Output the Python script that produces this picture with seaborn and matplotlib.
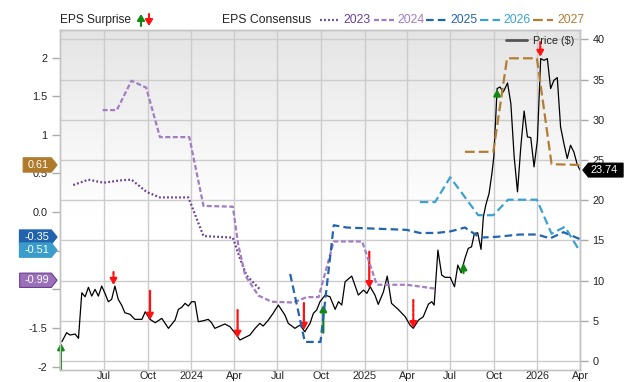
import numpy as np
import pandas as pd
import matplotlib
matplotlib.use("Agg")
import matplotlib.pyplot as plt
import matplotlib.transforms as mtransforms
from matplotlib.lines import Line2D
from matplotlib.path import Path
import seaborn as sns

# ---------------- data ----------------
price_dates = [
    "2023-04-03", "2023-04-13", "2023-04-20", "2023-05-01", "2023-05-08", "2023-05-15", "2023-05-22",
    "2023-05-29", "2023-06-05", "2023-06-12", "2023-06-19", "2023-06-26", "2023-07-03", "2023-07-10",
    "2023-07-17", "2023-07-24", "2023-07-31", "2023-08-07", "2023-08-14", "2023-08-25", "2023-09-04",
    "2023-09-19", "2023-09-26", "2023-10-06", "2023-10-17", "2023-10-31", "2023-11-14", "2023-11-28",
    "2023-12-05", "2023-12-12", "2023-12-19", "2023-12-26", "2024-01-02", "2024-01-09", "2024-01-16",
    "2024-01-27", "2024-02-06", "2024-02-13", "2024-02-20", "2024-03-02", "2024-03-12", "2024-03-23",
    "2024-04-03", "2024-04-13", "2024-04-24", "2024-05-04", "2024-05-15", "2024-05-25", "2024-06-01",
    "2024-06-12", "2024-06-22", "2024-07-03", "2024-07-10", "2024-07-17", "2024-07-24", "2024-08-07",
    "2024-08-18", "2024-08-28", "2024-09-08", "2024-09-15", "2024-09-22", "2024-09-29", "2024-10-10",
    "2024-10-20", "2024-10-31", "2024-11-07", "2024-11-14", "2024-11-21", "2024-12-05", "2024-12-19",
    "2024-12-30", "2025-01-06", "2025-01-13", "2025-01-23", "2025-01-30", "2025-02-10", "2025-02-18",
    "2025-02-27", "2025-03-13", "2025-03-28", "2025-04-07", "2025-04-14", "2025-04-25", "2025-05-05",
    "2025-05-16", "2025-05-23", "2025-05-28", "2025-06-05", "2025-06-13", "2025-06-20", "2025-07-01",
    "2025-07-10", "2025-07-17", "2025-07-24", "2025-08-01", "2025-08-08", "2025-08-15", "2025-08-21",
    "2025-08-28", "2025-09-04", "2025-09-09", "2025-09-14", "2025-09-21", "2025-09-27", "2025-10-01",
    "2025-10-08", "2025-10-14", "2025-10-21", "2025-10-30", "2025-11-06", "2025-11-13", "2025-11-20",
    "2025-11-27", "2025-12-04", "2025-12-11", "2025-12-18", "2025-12-25", "2026-01-01", "2026-01-08",
    "2026-01-15", "2026-01-22", "2026-01-29", "2026-02-05", "2026-02-12", "2026-02-19", "2026-02-26",
    "2026-03-05", "2026-03-12", "2026-03-19", "2026-03-26", "2026-04-01",
]
price_values = [
    2.40, 3.52, 3.23, 3.35, 2.82, 8.48, 7.99, 9.16, 8.07, 8.91, 8.07, 9.32, 8.41, 7.37,
    7.66, 9.32, 7.66, 6.96, 6.00, 5.80, 5.18, 5.18, 6.12, 5.18, 4.76, 5.30, 4.06, 5.09,
    6.42, 6.67, 7.17, 6.83, 7.37, 7.37, 4.88, 5.01, 5.18, 4.76, 4.06, 4.35, 4.60, 4.26,
    3.44, 2.61, 2.94, 3.23, 4.06, 4.68, 4.35, 5.09, 5.93, 6.96, 6.34, 5.71, 4.68, 4.06,
    4.47, 3.64, 4.68, 5.93, 6.34, 7.37, 8.20, 7.99, 6.42, 7.37, 6.96, 9.85, 10.56, 8.20,
    8.82, 8.41, 9.23, 8.20, 7.04, 8.61, 10.56, 7.17, 6.42, 5.50, 4.47, 4.06, 5.09, 5.50,
    7.08, 7.37, 6.96, 13.79, 10.68, 10.40, 10.40, 9.23, 11.93, 10.97, 12.76, 14.00, 14.20, 15.86,
    15.94, 13.88, 17.93, 19.38, 20.83, 23.32, 25.38, 33.88, 34.07, 33.45, 34.57, 32.01, 25.38, 21.03,
    26.62, 31.09, 27.86, 27.79, 24.14, 27.45, 37.60, 37.39, 37.60, 33.88, 34.91, 35.24, 29.11, 27.04,
    25.18, 26.83, 26.00, 24.47, 23.74,
]

c2023_dates = ["2023-04-27", "2023-05-29", "2023-06-30", "2023-08-04", "2023-08-28", "2023-09-29",
               "2023-10-27", "2023-12-26", "2024-01-27", "2024-03-29", "2024-04-13", "2024-04-27",
               "2024-05-25"]
c2023_values = [0.35, 0.42, 0.38, 0.41, 0.42, 0.26, 0.19, 0.19, -0.31, -0.33, -0.60, -0.82, -1.00]

c2024_dates = ["2023-06-28", "2023-07-28", "2023-08-28", "2023-09-28", "2023-10-27", "2023-12-28",
               "2024-01-27", "2024-03-29", "2024-04-09", "2024-04-24", "2024-05-22", "2024-06-19",
               "2024-08-04", "2024-09-01", "2024-09-26", "2024-10-28", "2024-12-27", "2025-01-27",
               "2025-03-31", "2025-05-30"]
c2024_values = [1.32, 1.32, 1.70, 1.61, 0.97, 0.97, 0.08, 0.07, -0.41, -0.82, -1.08, -1.16,
                -1.17, -1.10, -1.10, -0.38, -0.38, -0.94, -0.94, -0.99]

c2025_dates = ["2024-07-28", "2024-08-28", "2024-09-30", "2024-10-28", "2024-11-25", "2025-03-31",
               "2025-04-28", "2025-06-02", "2025-07-01", "2025-08-01", "2025-09-02", "2025-10-07",
               "2025-11-25", "2025-12-31", "2026-01-28", "2026-02-25", "2026-04-01"]
c2025_values = [-0.80, -1.68, -1.68, -0.17, -0.20, -0.23, -0.27, -0.27, -0.25, -0.20, -0.33, -0.32,
                -0.29, -0.29, -0.34, -0.26, -0.35]

c2026_dates = ["2025-04-28", "2025-05-30", "2025-07-01", "2025-08-29", "2025-09-30", "2025-10-31",
               "2025-12-31", "2026-01-31", "2026-02-28", "2026-04-01"]
c2026_values = [0.13, 0.13, 0.45, -0.04, -0.04, 0.16, 0.16, -0.28, -0.19, -0.51]

c2027_dates = ["2025-08-01", "2025-09-30", "2025-10-29", "2025-12-31", "2026-01-31", "2026-04-01"]
c2027_values = [0.78, 0.78, 1.99, 1.99, 0.62, 0.61]

consensus_years = ["2023", "2024", "2025", "2026", "2027"]
consensus_latest = ["", "-0.99", "-0.35", "-0.51", "0.61"]

surprise_dates = ["2023-04-01", "2023-07-21", "2023-10-06", "2024-04-08", "2024-08-26", "2024-10-06",
                  "2025-01-11", "2025-04-14", "2025-07-29", "2025-10-08", "2026-01-07"]
surprise_tail = [-1.1, 11.06, 8.73, 6.34, 7.20, 3.52, 13.58, 7.58, 10.93, 32.83, 39.66]
surprise_tip = [2.24, 9.44, 5.09, 2.86, 3.85, 6.96, 9.03, 4.06, 12.17, 33.79, 37.80]
surprise_beat = [True, False, False, False, False, True, False, False, True, True, False]
surprise_dashed = [False, True, False, False, False, False, False, True, False, False, True]

price_ticks = [0, 5, 10, 15, 20, 25, 30, 35, 40]
eps_ticks = [2, 1.5, 1, 0.5, 0, -0.5, -1, -1.5, -2]
eps_tick_labels = ["2", "1.5", "1", "0.5", "0.0", "", "", "-1.5", "-2"]
x_tick_dates = ["2023-07-01", "2023-10-01", "2024-01-01", "2024-04-01", "2024-07-01", "2024-10-01",
                "2025-01-01", "2025-04-01", "2025-07-01", "2025-10-01", "2026-01-01", "2026-04-01"]
x_tick_labels = ["Jul", "Oct", "2024", "Apr", "Jul", "Oct", "2025", "Apr", "Jul", "Oct", "2026", "Apr"]
last_price = 23.74

# ---------------- style ----------------
sns.set_theme(style="white")
plt.rcParams['font.family'] = ['Liberation Sans', 'DejaVu Sans']
plt.rcParams['lines.scale_dashes'] = False

col = {"2023": "#6b3f96", "2024": "#a37cc2", "2025": "#2365b0", "2026": "#3aa2d2", "2027": "#b27e33"}
dash = {"2023": (0, (1.3, 1.6)), "2024": (0, (3.6, 1.8)), "2025": (0, (5.5, 3.0)),
        "2026": (0, (6.0, 3.0)), "2027": (0, (7.0, 3.0))}
badge_col = {"2024": "#9b70bb", "2025": "#2163ad", "2026": "#399cca", "2027": "#b07a2b"}
badge_shift = {"2024": 6.0, "2025": 1.5, "2026": 1.0, "2027": 0.0}  # points, label placement nudge
grid_c = "#cccccc"
txt_c = "#222222"

W, H = 640, 382
fig = plt.figure(figsize=(6.4, 3.82), dpi=100)
ax = fig.add_axes([60 / W, 1 - 370 / H, 520 / W, 340 / H])
ax2 = ax.twinx()

# gradient background (grey at top fading to white)
frac = np.linspace(1, 0, 300)  # row 0 = top
g = np.clip((frac - 0.45) / 0.55, 0, 1) ** 1.1
shade = 1 - g * (1 - 0.895)
img = np.stack([shade, shade, shade], axis=-1).reshape(300, 1, 3)
ax.imshow(img, extent=[0, 1, 0, 1], transform=ax.transAxes, aspect='auto', zorder=-10,
          interpolation='bilinear', origin='upper')

# price line
pdf = pd.DataFrame({"date": pd.to_datetime(price_dates), "price": price_values})
sns.lineplot(data=pdf, x="date", y="price", ax=ax, color="black", lw=0.9, zorder=3)

# consensus lines
cdata = {"2023": (c2023_dates, c2023_values), "2024": (c2024_dates, c2024_values),
         "2025": (c2025_dates, c2025_values), "2026": (c2026_dates, c2026_values),
         "2027": (c2027_dates, c2027_values)}
for yr in consensus_years:
    d, v = cdata[yr]
    cdf = pd.DataFrame({"date": pd.to_datetime(d), "eps": v})
    sns.lineplot(data=cdf, x="date", y="eps", ax=ax2, color=col[yr], lw=1.6)
    ax2.lines[-1].set_linestyle(dash[yr])

# surprise arrows
for d, t0, t1, beat, dsh in zip(surprise_dates, surprise_tail, surprise_tip, surprise_beat, surprise_dashed):
    c = "#118811" if beat else "#ff1111"
    ls = (0, (2.0, 1.2)) if dsh else "solid"
    ax.annotate("", xy=(pd.Timestamp(d), t1), xytext=(pd.Timestamp(d), t0),
                arrowprops=dict(arrowstyle="-|>,head_length=0.36,head_width=0.2", color=c, lw=1.6,
                                linestyle=ls, shrinkA=0, shrinkB=0, mutation_scale=10),
                zorder=5, annotation_clip=False)

# axes limits, ticks, grid
ax.set_xlim(pd.Timestamp("2023-03-30"), pd.Timestamp("2026-04-01"))
ax.set_ylim(-1.12, 41.16)
ax2.set_ylim(-2.043, 2.356)

ax.set_xticks(pd.to_datetime(x_tick_dates))
ax.set_xticklabels(x_tick_labels)
ax.set_yticks(price_ticks)
ax.set_yticklabels([str(t) for t in price_ticks])
ax.yaxis.tick_right()
ax2.yaxis.tick_left()
ax2.set_yticks(eps_ticks)
ax2.set_yticklabels(eps_tick_labels)

ax.set_axisbelow(True)
ax.grid(True, axis="both", color=grid_c, lw=1.0)
ax2.grid(False)
ax.set_xlabel("")
ax.set_ylabel("")
ax2.set_xlabel("")
ax2.set_ylabel("")

ax.tick_params(axis="x", length=0, pad=1, labelsize=7.8, labelcolor=txt_c)
ax.tick_params(axis="y", which="both", right=True, left=False, labelright=True, labelleft=False,
               direction="out", length=6, width=1, color="#aaaaaa", pad=3, labelsize=7.8,
               labelcolor=txt_c)
ax2.tick_params(axis="y", which="both", left=True, right=False, labelleft=True, labelright=False,
                direction="out", length=6, width=1, color="#aaaaaa", pad=3, labelsize=7.8,
                labelcolor=txt_c)
for a in (ax, ax2):
    for s in a.spines.values():
        s.set_visible(True)
        s.set_color("#c4c4c4")
        s.set_linewidth(1.0)
ax2.patch.set_visible(False)


# badges
def right_badge(x0, y0, width, height, mutation_size):
    pl, pr, pv = 0.45 * mutation_size, 0.2 * mutation_size, 0.2 * mutation_size
    x0 -= pl; y0 -= pv; w = width + pl + pr; h = height + 2 * pv
    tip = h * 0.4
    verts = [(x0, y0), (x0 + w, y0), (x0 + w + tip, y0 + h / 2), (x0 + w, y0 + h), (x0, y0 + h), (x0, y0)]
    return Path(verts, closed=True)


def left_badge(x0, y0, width, height, mutation_size):
    pl, pr, pv = 0.2 * mutation_size, 0.5 * mutation_size, 0.18 * mutation_size
    x0 -= pl; y0 -= pv; w = width + pl + pr; h = height + 2 * pv
    tip = h * 0.4
    verts = [(x0, y0), (x0 + w, y0), (x0 + w, y0 + h), (x0, y0 + h), (x0 - tip, y0 + h / 2), (x0, y0)]
    return Path(verts, closed=True)


trans_eps = mtransforms.blended_transform_factory(ax2.transAxes, ax2.transData)
for yr, lab in zip(consensus_years, consensus_latest):
    if not lab:
        continue
    val = float(lab)
    ec = "#6a3f8c" if yr == "2024" else badge_col[yr]
    ax2.annotate(lab, xy=(0, val), xycoords=trans_eps, xytext=(-7.8, badge_shift[yr]),
                 textcoords="offset points", ha="right", va="center", fontsize=7.8, color="white",
                 zorder=20, annotation_clip=False,
                 bbox=dict(boxstyle=right_badge, fc=badge_col[yr], ec=ec, lw=0.8))

trans_p = mtransforms.blended_transform_factory(ax.transAxes, ax.transData)
ax2.annotate(f"{last_price:.2f}", xy=(1, last_price), xycoords=trans_p, xytext=(7.6, 0),
             textcoords="offset points", ha="left", va="center", fontsize=7.8, color="white",
             zorder=20, annotation_clip=False,
             bbox=dict(boxstyle=left_badge, fc="black", ec="black", lw=0.8))

# price legend
ax2.legend(handles=[Line2D([0], [0], color="#555555", lw=2)], labels=["Price ($)"], loc="upper right",
           frameon=False, fontsize=7.8, handlelength=2.0, handletextpad=0.5, borderaxespad=0.25,
           borderpad=0.3)

# top legend
ty = 1 - 20 / H
fig.text(60 / W, ty, "EPS Surprise", fontsize=8.6, color=txt_c, va="center", ha="left")
for xp, beat in ((141, True), (149, False)):
    c = "#118811" if beat else "#ff1111"
    y0, y1 = (1 - 26 / H, 1 - 14 / H) if beat else (1 - 14 / H, 1 - 26 / H)
    fig.add_artist(matplotlib.patches.FancyArrowPatch(
        (xp / W, y0), (xp / W, y1), transform=fig.transFigure,
        arrowstyle="-|>,head_length=0.36,head_width=0.22", color=c, lw=1.5, mutation_scale=10,
        shrinkA=0, shrinkB=0))
fig.text(222 / W, ty, "EPS Consensus", fontsize=8.8, color=txt_c, va="center", ha="left")
leg_pos = {"2023": (320, 343), "2024": (374, 397), "2025": (426, 450), "2026": (480, 503), "2027": (533, 557)}
for yr in consensus_years:
    l0, t0 = leg_pos[yr]
    fig.add_artist(Line2D([l0 / W, (l0 + 20) / W], [ty, ty], transform=fig.transFigure,
                          color=col[yr], lw=1.6, linestyle=dash[yr]))
    fig.text(t0 / W, ty, yr, fontsize=8.8, color=col[yr], va="center", ha="left")

fig.savefig("out.png", dpi=100)
